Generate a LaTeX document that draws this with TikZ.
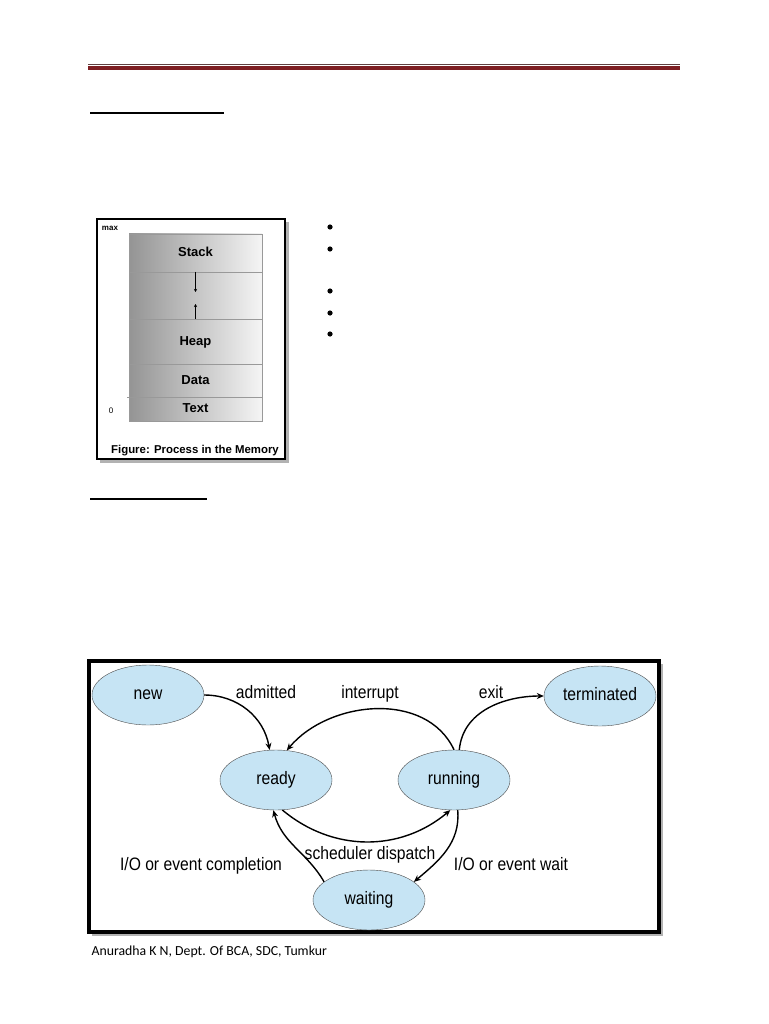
\documentclass[tikz,border=0pt]{standalone}
\usepackage{fontspec}
\usetikzlibrary{shapes.geometric,arrows.meta}
\newfontfamily\etatfont[FakeStretch=0.87]{Liberation Sans}
\newfontfamily\memfont{Liberation Sans}
\newfontfamily\piedfont{Carlito}
\definecolor{bleuetat}{RGB}{198,228,244}
\definecolor{rougeentete}{RGB}{125,30,34}
\definecolor{filentete}{RGB}{95,65,65}

\begin{document}
\begin{tikzpicture}[x=1pt,y=1pt]
\tikzset{etat/.style={ellipse,draw=black!70,thin,fill=bleuetat,minimum width=112pt,
minimum height=60pt,inner sep=0pt,text height=13pt,text depth=4pt,
font=\etatfont\fontsize{18}{20}\selectfont},
lien/.style={-{Stealth[length=7pt,width=6pt]},line width=1.4pt},
legende/.style={text height=13pt,text depth=4pt,font=\etatfont\fontsize{18}{20}\selectfont},
case/.style={draw=black!40,left color=black!42,right color=black!4,minimum width=133pt,
inner sep=0pt,text height=9.5pt,text depth=2.5pt,
font=\memfont\bfseries\fontsize{13}{15}\selectfont}}
\fill[white] (0,0) rectangle (768,-1024);
\useasboundingbox (0,0) rectangle (768,-1024);

% en-tete
\draw[filentete,line width=0.8pt] (88,-64) -- (680,-64);
\fill[rougeentete] (88,-66) rectangle (680,-70.5);
\draw[line width=2pt] (90,-113) -- (224,-113);

% memoire
\fill[black!30] (100,-222) rectangle (289,-463);
\fill[white] (97,-219) rectangle (285,-459);
\draw[line width=2.5pt] (97,-219) rectangle (285,-459);
\node[case,minimum height=38pt] (stack) at (195.5,-253) {Stack};
\node[case,minimum height=47pt] (gap) at (195.5,-295.5) {};
\node[case,minimum height=45pt] (heap) at (195.5,-341.5) {Heap};
\node[case,minimum height=33pt] (data) at (195.5,-380.5) {Data};
\node[case,minimum height=24pt] (text) at (195.5,-409) {Text};
\draw[black!40] (text.north west) -- ++(-2,0);
\coordinate (pointe1) at (195.5,-292);
\coordinate (pointe2) at (195.5,-304);
\draw[-{Stealth[length=3pt,width=3pt]},thin] (gap.north) -- (pointe1);
\draw[-{Stealth[length=3pt,width=3pt]},thin] (gap.south) -- (pointe2);
\node[font=\memfont\bfseries\fontsize{8}{9}\selectfont] (max) at (110,-228) {max};
\node[font=\memfont\fontsize{8}{9}\selectfont] (zero) at (111,-411) {0};
\node[font=\memfont\bfseries\fontsize{11.4}{13}\selectfont] (figure) at (195,-451) {Figure: Process in the Memory};

% puces
\foreach \y in {227,249,291,313,334}
  \fill (330,-\y) circle (2.6);

\draw[line width=2pt] (90,-499) -- (207,-499);

% etats
\fill[black!30] (92,-664) rectangle (663,-936);
\fill[white] (89,-661) rectangle (659,-932);
\draw[line width=3.5pt] (89,-661) rectangle (659,-932);
\node[etat] (new) at (148,-695) {new};
\node[etat] (terminated) at (600,-696) {terminated};
\node[etat] (ready) at (276,-780) {ready};
\node[etat] (running) at (454,-780) {running};
\node[etat] (waiting) at (369,-900) {waiting};

\node[legende] (admitted) at (266,-694) {admitted};
\node[legende] (interrupt) at (370,-694) {interrupt};
\node[legende] (exit) at (491,-694) {exit};
\node[legende] (dispatch) at (370,-855) {scheduler dispatch};
\node[legende] (completion) at (201,-866) {I/O or event completion};
\node[legende] (wait) at (511,-866) {I/O or event wait};

\draw[lien] (new.east) to[out=0,in=100] (ready.102);
\draw[lien] (running.90) to[out=115,in=50] (ready.70);
\draw[lien] (running.80) to[out=85,in=180] (terminated.west);
\draw[lien] (ready.-78) to[out=-40,in=-140] (running.-97);
\draw[lien] (running.-83) to[out=-85,in=40] (waiting.22);
\draw[lien] (waiting.158) to[out=120,in=-75] (ready.-95);

% pied de page
\node[anchor=west,font=\piedfont\fontsize{13.8}{16}\selectfont] (pied) at (88,-952) {Anuradha K N, Dept. Of BCA, SDC, Tumkur};
\end{tikzpicture}
\end{document}
